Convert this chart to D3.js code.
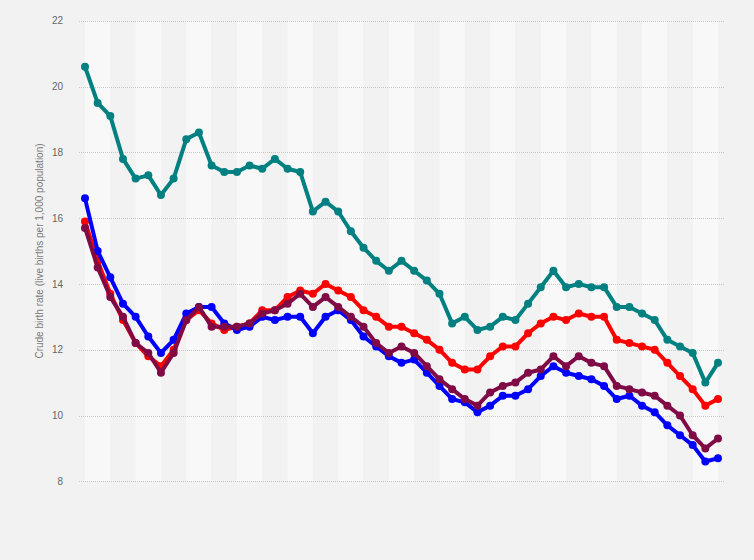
<!DOCTYPE html>
<html>
<head>
<meta charset="utf-8">
<script src="https://cdn.jsdelivr.net/npm/d3@7"></script>
<style>
  html, body { margin: 0; padding: 0; background: #f2f2f2; }
  svg { display: block; }
</style>
</head>
<body>
<svg id="chart" width="754" height="560"></svg>
<script>
// ---- data ----
const yTicks = [8, 10, 12, 14, 16, 18, 20, 22];
const yTitle = "Crude birth rate (live births per 1,000 population)";
const seriesTeal   = [20.6,19.5,19.1,17.8,17.2,17.3,16.7,17.2,18.4,18.6,17.6,17.4,17.4,17.6,17.5,17.8,17.5,17.4,16.2,16.5,16.2,15.6,15.1,14.7,14.4,14.7,14.4,14.1,13.7,12.8,13.0,12.6,12.7,13.0,12.9,13.4,13.9,14.4,13.9,14.0,13.9,13.9,13.3,13.3,13.1,12.9,12.3,12.1,11.9,11.0,11.6];
const seriesRed    = [15.9,14.7,13.7,12.9,12.2,11.8,11.5,12.0,12.9,13.2,12.8,12.6,12.7,12.8,13.2,13.2,13.6,13.8,13.7,14.0,13.8,13.6,13.2,13.0,12.7,12.7,12.5,12.3,12.0,11.6,11.4,11.4,11.8,12.1,12.1,12.5,12.8,13.0,12.9,13.1,13.0,13.0,12.3,12.2,12.1,12.0,11.6,11.2,10.8,10.3,10.5];
const seriesBlue   = [16.6,15.0,14.2,13.4,13.0,12.4,11.9,12.3,13.1,13.3,13.3,12.8,12.6,12.7,13.0,12.9,13.0,13.0,12.5,13.0,13.2,12.9,12.4,12.1,11.8,11.6,11.7,11.3,10.9,10.5,10.4,10.1,10.3,10.6,10.6,10.8,11.2,11.5,11.3,11.2,11.1,10.9,10.5,10.6,10.3,10.1,9.7,9.4,9.1,8.6,8.7];
const seriesMaroon = [15.7,14.5,13.6,13.0,12.2,11.9,11.3,11.9,12.9,13.3,12.7,12.7,12.7,12.8,13.1,13.2,13.4,13.7,13.3,13.6,13.3,13.0,12.7,12.2,11.9,12.1,11.9,11.5,11.1,10.8,10.5,10.3,10.7,10.9,11.0,11.3,11.4,11.8,11.5,11.8,11.6,11.5,10.9,10.8,10.7,10.6,10.3,10.0,9.4,9.0,9.3];

const series = [
  { name: "teal",   values: seriesTeal,   color: "#008080" },
  { name: "red",    values: seriesRed,    color: "#ff0000" },
  { name: "blue",   values: seriesBlue,   color: "#0000ff" },
  { name: "maroon", values: seriesMaroon, color: "#7f0a45" }
];

// ---- layout ----
const svg = d3.select("#chart");
const n = seriesTeal.length;
const x = d3.scaleLinear().domain([0, n - 1]).range([85, 718]);
const y = d3.scaleLinear().domain([8, 22]).range([481.3, 20.7]);

svg.append("rect").attr("width", 754).attr("height", 560).attr("fill", "#f2f2f2");

// alternating bands (every 2 points)
const bands = d3.range(0, n - 1, 2);
svg.append("g").selectAll("rect").data(bands).join("rect")
  .attr("x", d => x(d))
  .attr("width", d => x(Math.min(d + 2, n - 1)) - x(d))
  .attr("y", y(22))
  .attr("height", y(8) - y(22))
  .attr("fill", (d, i) => i % 2 === 0 ? "#f8f8f8" : "#f2f2f2");

// gridlines
svg.append("g").selectAll("line").data(yTicks).join("line")
  .attr("x1", 79).attr("x2", 724)
  .attr("y1", d => Math.round(y(d)) + 0.5).attr("y2", d => Math.round(y(d)) + 0.5)
  .attr("stroke", "#c8c8c8").attr("stroke-width", 1)
  .attr("stroke-dasharray", "1,1");

// y axis labels
const yAxis = d3.axisLeft(y).tickValues(yTicks).tickSize(0).tickPadding(0).tickFormat(d3.format("d"));
const gy = svg.append("g").attr("transform", "translate(63,0)").call(yAxis);
gy.select(".domain").remove();
gy.selectAll("text")
  .attr("fill", "#666")
  .attr("font-family", "'Liberation Sans', Arial, sans-serif")
  .attr("font-size", 10);

// y title
svg.append("text")
  .attr("transform", `translate(43,${(y(8) + y(22)) / 2}) rotate(-90)`)
  .attr("text-anchor", "middle")
  .attr("fill", "#7a7a7a")
  .attr("font-family", "'Liberation Sans', Arial, sans-serif")
  .attr("font-size", 10)
  .text(yTitle);

// lines + dots
const line = d3.line().x((d, i) => x(i)).y(d => y(d));
series.forEach(s => {
  const g = svg.append("g");
  g.append("path")
    .attr("d", line(s.values))
    .attr("fill", "none")
    .attr("stroke", s.color)
    .attr("stroke-width", 4)
    .attr("stroke-linejoin", "round");
  g.selectAll("circle").data(s.values).join("circle")
    .attr("cx", (d, i) => x(i))
    .attr("cy", d => y(d))
    .attr("r", 4)
    .attr("fill", s.color);
});
</script>
</body>
</html>
